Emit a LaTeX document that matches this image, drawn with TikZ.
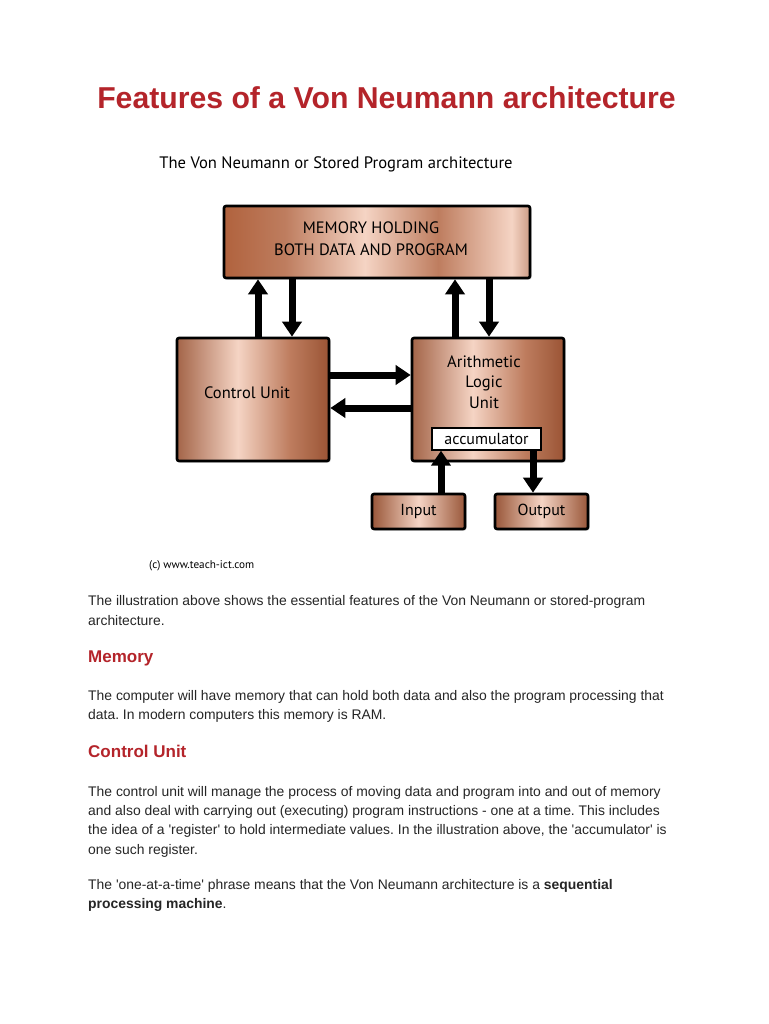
\documentclass[tikz,border=0pt]{standalone}
\usepackage{fontspec}
\setmainfont{Liberation Sans}
\newfontfamily\diagfont{PT Sans}
\usetikzlibrary{arrows.meta,shadows}
\frenchspacing
\definecolor{titlered}{RGB}{180,36,42}
\definecolor{cuD}{RGB}{135,62,30}
\definecolor{cuM}{RGB}{190,125,95}
\definecolor{cuL}{RGB}{245,212,196}
\definecolor{cuO}{RGB}{170,85,45}
\pgfdeclarehorizontalshading{copperwide}{100bp}{color(0bp)=(cuM); color(8bp)=(cuM); color(20bp)=(cuO); color(35bp)=(cuM); color(48bp)=(cuL); color(60bp)=(cuM); color(72bp)=(cuL); color(80bp)=(cuD); color(88bp)=(cuL); color(96bp)=(cuM); color(100bp)=(cuM)}
\pgfdeclarehorizontalshading{copperbox}{100bp}{color(0bp)=(cuM); color(18bp)=(cuD); color(45bp)=(cuL); color(62bp)=(cuM); color(82bp)=(cuD); color(100bp)=(cuL)}
\pgfdeclarehorizontalshading{coppersmall}{100bp}{color(0bp)=(cuM); color(20bp)=(cuD); color(50bp)=(cuL); color(80bp)=(cuD); color(100bp)=(cuM)}
\tikzset{
  unitbox/.style={draw=black, line width=2.6pt, rounded corners=2pt, inner sep=0pt,
     drop shadow={opacity=0.35, shadow xshift=1.5pt, shadow yshift=-1.5pt}},
  fat/.style={line width=7pt, -{Triangle[length=15pt,width=19pt]}},
  difftext/.style={font=\diagfont\fontsize{16.5}{22}\selectfont, text=black, align=center},
  bodyline/.style={anchor=base west, inner sep=0pt, font=\fontsize{13.9}{19}\selectfont, text=black!85},
  heading/.style={anchor=base west, inner sep=0pt, font=\bfseries\fontsize{17}{20}\selectfont, text=titlered},
}
\begin{document}
\begin{tikzpicture}[x=1pt,y=-1pt]
\useasboundingbox[fill=white] (0,0) rectangle (768,1024);
% title
\node[anchor=base, inner sep=0pt, font=\bfseries\fontsize{30.2}{34}\selectfont, text=titlered] (title) at (386.5,109) {Features of a Von Neumann architecture};
% diagram caption
\node[anchor=base, inner sep=0pt, font=\diagfont\fontsize{16.6}{20}\selectfont] (caption) at (336,169) {The Von Neumann or Stored Program architecture};
% boxes
\node[unitbox, shading=copperwide, minimum width=306pt, minimum height=72pt] (mem) at (377,242) {};
\node[difftext] (memtext) at (371,239) {MEMORY HOLDING\\BOTH DATA AND PROGRAM};
\node[unitbox, shading=copperbox, minimum width=152pt, minimum height=123pt] (cu) at (253,399.5) {};
\node[difftext] (cutext) at (247,393) {Control Unit};
\node[unitbox, shading=copperbox, minimum width=152pt, minimum height=123pt] (alu) at (488,399.5) {};
\node[difftext, font=\diagfont\fontsize{16.5}{20.5}\selectfont] (alutext) at (484,382) {Arithmetic\\Logic\\Unit};
\node[draw=black, line width=1.3pt, fill=white, inner sep=0pt, minimum width=109pt, minimum height=22pt, font=\diagfont\fontsize{16}{19}\selectfont] (acc) at (486.5,439) {accumulator};
\node[unitbox, shading=coppersmall, minimum width=93pt, minimum height=35pt, font=\diagfont\fontsize{16}{19}\selectfont] (inp) at (418.5,511.5) {Input};
\node[unitbox, shading=coppersmall, minimum width=93pt, minimum height=35pt, font=\diagfont\fontsize{16}{19}\selectfont] (outp) at (541.5,511.5) {Output};
% connectors
\draw[fat] (cu.north -| 258,0) -- (mem.south -| 258,0);
\draw[fat] (mem.south -| 292,0) -- (cu.north -| 292,0);
\draw[fat] (alu.north -| 455,0) -- (mem.south -| 455,0);
\draw[fat] (mem.south -| 489,0) -- (alu.north -| 489,0);
\draw[fat] (cu.east |- 0,375) -- (alu.west |- 0,375);
\draw[fat] (alu.west |- 0,408) -- (cu.east |- 0,408);
\draw[fat] (inp.north -| 441,0) -- (acc.south -| 441,0);
\draw[fat] (acc.south -| 533,0) -- (outp.north -| 533,0);
\node[anchor=base west, inner sep=0pt, font=\diagfont\fontsize{11.2}{13}\selectfont] (copy) at (149,568) {(c) www.teach-ict.com};
% body text
\node[bodyline] (p1a) at (88,605.5) {The illustration above shows the essential features of the Von Neumann or stored-program};
\node[bodyline] (p1b) at (88,625) {architecture.};
\node[heading] (h1) at (88,662) {Memory};
\node[bodyline] (p2a) at (88,700) {The computer will have memory that can hold both data and also the program processing that};
\node[bodyline] (p2b) at (88,719.5) {data. In modern computers this memory is RAM.};
\node[heading] (h2) at (88,757) {Control Unit};
\node[bodyline] (p3a) at (88,796) {The control unit will manage the process of moving data and program into and out of memory};
\node[bodyline] (p3b) at (88,815) {and also deal with carrying out (executing) program instructions - one at a time. This includes};
\node[bodyline] (p3c) at (88,834.5) {the idea of a \textquotesingle register\textquotesingle\ to hold intermediate values. In the illustration above, the \textquotesingle accumulator\textquotesingle\ is};
\node[bodyline] (p3d) at (88,854) {one such register.};
\node[bodyline] (p4a) at (88,889) {The \textquotesingle one-at-a-time\textquotesingle\ phrase means that the Von Neumann architecture is a \textbf{sequential}};
\node[bodyline] (p4b) at (88,908) {\textbf{processing machine}.};
\end{tikzpicture}
\end{document}
